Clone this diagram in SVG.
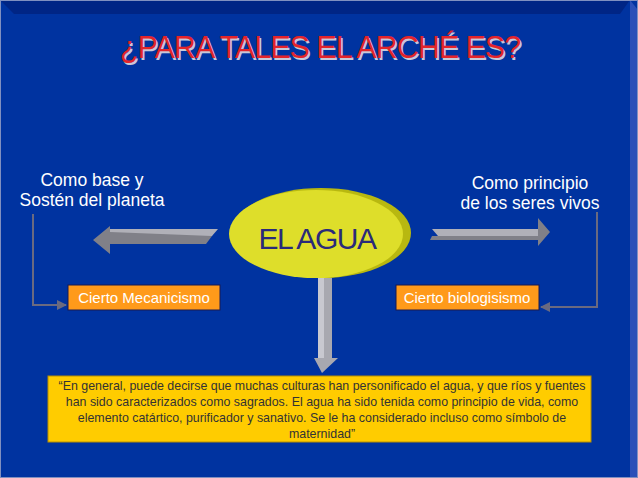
<svg xmlns="http://www.w3.org/2000/svg" width="638" height="478" viewBox="0 0 638 478">
<defs>
<style>
.w{font-family:"Liberation Sans",Arial,sans-serif;fill:#fff;font-size:17.5px;text-anchor:middle}
.o{fill:#ff9a1a;stroke:#1a1a50;stroke-width:1}
.ot{font-family:"Liberation Sans",Arial,sans-serif;fill:#fff;font-size:15px;text-anchor:middle}
.q{font-family:"Liberation Sans",Arial,sans-serif;fill:#333;font-size:12.4px;text-anchor:middle}
.c{fill:none;stroke:#6a6a80;stroke-width:2}
</style>
<marker id="ah" viewBox="0 0 10 10" refX="9" refY="5" markerWidth="5" markerHeight="5" orient="auto"><path d="M0,0L10,5L0,10z" fill="#6a6a80"/></marker>
</defs>
<rect width="638" height="478" fill="#0033a0"/>
<polygon points="0,0 630,0 620,14 14,14" fill="#002585"/>
<polygon points="630,0 638,10 638,478 630,478" fill="#2a4fb8"/>
<rect x="0.5" y="0.5" width="637" height="477" fill="none" stroke="#8090c0" stroke-width="1"/>
<text x="320" y="58" font-family="'Liberation Sans',Arial,sans-serif" font-size="30.5" text-anchor="middle" fill="#c8c8d8" transform="translate(1.5,1.5)" letter-spacing="-1">¿PARA TALES EL ARCHÉ ES?</text>
<text x="320" y="58" font-family="'Liberation Sans',Arial,sans-serif" font-size="30.5" text-anchor="middle" fill="#e3242b" letter-spacing="-1">¿PARA TALES EL ARCHÉ ES?</text>
<text class="w" x="92" y="186">Como base y</text>
<text class="w" x="92" y="206">Sostén del planeta</text>
<text class="w" x="530" y="189">Como principio</text>
<text class="w" x="530" y="209">de los seres vivos</text>
<g id="connectors">
<path class="c" d="M33,214V305H66" marker-end="url(#ah)"/>
<path class="c" d="M597,212V307H541" marker-end="url(#ah)"/>
<g id="arrow-left"><polygon points="110,229 218,229 212,236 110,236" fill="#b0b0b8"/><polygon points="93,240 110,226 110,232 212,236 206,244 110,244 110,254" fill="#808088"/></g>
<g id="arrow-right"><polygon points="432,229 538,229 538,236 438,236" fill="#b0b0b8"/><polygon points="538,218 550,232 538,246 538,240 430,240 432,236 538,236" fill="#808088"/></g>
<g id="arrow-down"><polygon points="318,278 332,278 332,358 338,358 322,373 314,358 318,358" fill="#a8a8b0"/><polygon points="318,278 324,276 324,358 318,358" fill="#c8c8d0"/></g>
</g>
<g id="agua">
<ellipse cx="321" cy="233" rx="90" ry="45" fill="#b8b810"/>
<ellipse cx="316" cy="234" rx="87" ry="44" fill="#dede2a"/>
<text x="317" y="249" font-family="'Liberation Sans',Arial,sans-serif" font-size="30" text-anchor="middle" fill="#2a2a7a" letter-spacing="-1.5">EL AGUA</text>
</g>
<g id="mecanicismo"><rect class="o" x="68" y="285" width="152" height="25"/><text class="ot" x="144" y="303">Cierto Mecanicismo</text></g>
<g id="biologisismo"><rect class="o" x="396" y="285" width="143" height="25"/><text class="ot" x="467" y="303">Cierto biologisismo</text></g>
<g id="quote">
<rect x="48" y="376" width="543" height="66" fill="#ffcc00" stroke="#b89000" stroke-width="1"/>
<text class="q" x="322" y="390">“En general, puede decirse que muchas culturas han personificado el agua, y que ríos y fuentes</text>
<text class="q" x="322" y="406">han sido caracterizados como sagrados. El agua ha sido tenida como principio de vida, como</text>
<text class="q" x="322" y="422">elemento catártico, purificador y sanativo. Se le ha considerado incluso como símbolo de</text>
<text class="q" x="322" y="438">maternidad”</text>
</g>
</svg>
